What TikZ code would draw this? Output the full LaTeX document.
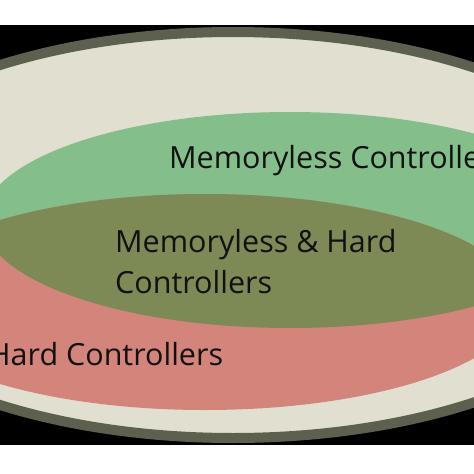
\documentclass[tikz,border=0pt]{standalone}
\usepackage{fontspec}
\setmainfont{Open Sans}
\definecolor{beigec}{HTML}{E0DFD0}
\definecolor{rimc}{HTML}{5D5F4F}
\definecolor{greenc}{HTML}{84BF8B}
\definecolor{redc}{HTML}{D3857C}
\definecolor{olivec}{HTML}{7E8A55}
\definecolor{textc}{HTML}{111111}
\begin{document}
\begin{tikzpicture}[x=1pt,y=-1pt,
  lbl/.style={anchor=base west, inner sep=0pt, text=textc,
    font=\fontsize{30.5}{41}\selectfont, align=left}]
\useasboundingbox (0,0) rectangle (474,474);
\fill[white] (0,0) rectangle (474,474);
\begin{scope}
  \clip (0,25) rectangle (474,445);
  \fill[black] (0,25) rectangle (474,445);
  \draw[line width=10pt, draw=rimc, fill=beigec] (233,235) ellipse [x radius=426pt, y radius=203pt];
  \fill[greenc] (290,220) ellipse [x radius=307pt, y radius=108pt];
  \fill[redc] (205,302) ellipse [x radius=315pt, y radius=108pt];
  \begin{scope}
    \clip (290,220) ellipse [x radius=307pt, y radius=108pt];
    \fill[olivec] (205,302) ellipse [x radius=315pt, y radius=108pt];
  \end{scope}
  \node[lbl] (mless) at (169,168) {Memoryless Controllers};
  \node[lbl] (both) at (115,293) {Memoryless \& Hard\\Controllers};
  \node[lbl] (hard) at (-12,365) {Hard Controllers};
\end{scope}
\end{tikzpicture}
\end{document}
